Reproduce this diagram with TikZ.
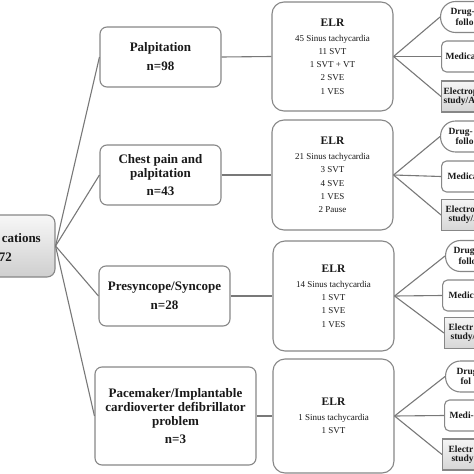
\documentclass[tikz,border=0pt]{standalone}
\usepackage{fontspec}
\setmainfont{Liberation Serif}
\definecolor{boxline}{RGB}{135,135,135}
\definecolor{conn}{RGB}{120,120,120}
\definecolor{txt}{RGB}{25,25,25}
\begin{document}
\begin{tikzpicture}[x=1pt,y=-1pt,
  box/.style={draw=boxline, line width=1.1pt, fill=white, rounded corners=7pt,
    inner sep=0pt, align=center, text=txt,
    font=\fontsize{13}{14}\selectfont\bfseries},
  rootbox/.style={box, top color=gray!6, bottom color=gray!38, rounded corners=8pt},
  elrbox/.style={box, rounded corners=12pt, minimum width=121pt,
    font=\fontsize{9}{13.3}\selectfont},
  lbl/.style={inner sep=0pt, text=txt, font=\fontsize{13}{14}\selectfont\bfseries},
  rnode/.style={draw=boxline, line width=1.1pt, fill=white, anchor=west,
    minimum height=31pt, text width=90pt, inner xsep=0pt, inner ysep=0pt,
    align=left, text=txt, font=\fontsize{9.5}{10.5}\selectfont\bfseries},
  pill/.style={rnode, rounded corners=15pt},
  medbox/.style={rnode, rounded corners=5pt},
  graybox/.style={rnode, top color=gray!8, bottom color=gray!32,
    font=\fontsize{9.5}{9}\selectfont\bfseries},
  conn/.style={draw=conn, line width=1.1pt}
]
\useasboundingbox (0,0) rectangle (474,474);
\clip (0,0) rectangle (474,474);

% root
\node[rootbox, minimum width=120pt, minimum height=62pt] (root) at (-5,246) {};
\node[lbl, anchor=east] (rootA) at (41,238) {cations};
\node[lbl, anchor=east] (rootB) at (12,257) {72};

% categories
\node[box, minimum width=121pt, minimum height=60pt] (c1) at (160.5,57) {Palpitation\\[5pt]n=98};
\node[box, minimum width=121pt, minimum height=60pt] (c2) at (160.5,175) {Chest pain and\\palpitation\\[4pt]n=43};
\node[box, minimum width=131pt, minimum height=60pt] (c3) at (164.5,296) {Presyncope/Syncope\\[5pt]n=28};
\node[box, minimum width=161pt, minimum height=98pt] (c4) at (175.5,416) {Pacemaker/Implantable\\cardioverter defibrillator\\problem\\[4pt]n=3};

% ELR boxes
\node[elrbox, minimum height=109pt] (e1) at (332.5,56.5) {{\fontsize{11.5}{13}\selectfont\bfseries ELR}\\[1.7pt]45 Sinus tachycardia\\11 SVT\\1 SVT + VT\\2 SVE\\1 VES};
\node[elrbox, minimum height=110pt] (e2) at (332.5,175) {{\fontsize{11.5}{13}\selectfont\bfseries ELR}\\[1.7pt]21 Sinus tachycardia\\3 SVT\\4 SVE\\1 VES\\2 Pause};
\node[elrbox, minimum height=110pt] (e3) at (333.5,296) {{\fontsize{11.5}{13}\selectfont\bfseries ELR}\\[1.7pt]14 Sinus tachycardia\\1 SVT\\1 SVE\\1 VES};
\node[elrbox, minimum height=114pt] (e4) at (333.5,416) {{\fontsize{11.5}{13}\selectfont\bfseries ELR}\\[1.7pt]1 Sinus tachycardia\\1 SVT};

% right-hand nodes, row 1
\node[pill] (d1) at (440,17) {\hspace*{10pt}Drug-\\\hspace*{15pt}follo};
\node[medbox] (m1) at (441,56.5) {\hspace*{4pt}Medica};
\node[graybox] (g1) at (441,96.5) {\hspace*{2pt}Electrop\\\hspace*{2pt}study/A};
% row 2
\node[pill] (d2) at (440,136.5) {\hspace*{8pt}Drug-\\\hspace*{15pt}follo};
\node[medbox] (m2) at (441,176.5) {\hspace*{6pt}Medica};
\node[graybox] (g2) at (441,215) {\hspace*{4pt}Electro-\\\hspace*{7pt}study/A};
% row 3
\node[pill] (d3) at (445,256) {\hspace*{8pt}Drug-\\\hspace*{13pt}follo};
\node[medbox] (m3) at (442,295.5) {\hspace*{6pt}Medic};
\node[graybox] (g3) at (444,333) {\hspace*{4pt}Electr\\\hspace*{6pt}study/};
% row 4
\node[pill] (d4) at (445,376.5) {\hspace*{11pt}Drug\\\hspace*{15pt}fol};
\node[medbox] (m4) at (444,415.5) {\hspace*{5pt}Medi-};
\node[graybox] (g4) at (442,454.5) {\hspace*{6pt}Electr\\\hspace*{9pt}study};

% connectors
\foreach \c in {c1,c2,c3,c4} \draw[conn] (root.east) -- (\c.west);
\draw[conn] (c1.east) -- (e1.west);
\draw[conn] (c2.east) -- (e2.west);
\draw[conn] (c3.east) -- (e3.west);
\draw[conn] (c4.east) -- (e4.west);
\foreach \i in {1,2,3,4} {
  \draw[conn] (e\i.east) -- (d\i.west);
  \draw[conn] (e\i.east) -- (m\i.west);
  \draw[conn] (e\i.east) -- (g\i.west);
}
\end{tikzpicture}
\end{document}
